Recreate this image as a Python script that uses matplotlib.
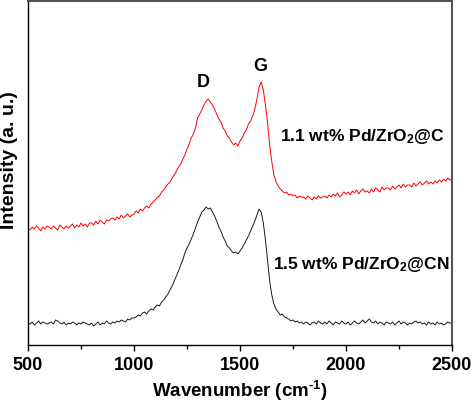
import numpy as np
import matplotlib
matplotlib.use("Agg")
import matplotlib.pyplot as plt

plt.rcParams['font.family'] = ['Liberation Sans', 'DejaVu Sans']
plt.rcParams['font.weight'] = 'bold'
plt.rcParams['mathtext.fontset'] = 'custom'
plt.rcParams['mathtext.rm'] = 'Liberation Sans:bold'
plt.rcParams['mathtext.it'] = 'Liberation Sans:bold'
plt.rcParams['mathtext.bf'] = 'Liberation Sans:bold'
plt.rcParams['mathtext.default'] = 'rm'

# Wavenumber grid (cm^-1)
wavenumber = np.arange(500, 2501, 10)

# Intensity (a.u.), 1.1 wt% Pd/ZrO2@C (red)
red_c = [
    117, 115, 118, 116, 119, 117, 114, 118, 116, 119,
    118, 116, 119, 117, 115, 120, 118, 116, 119, 117,
    119, 121, 117, 120, 118, 122, 119, 121, 118, 122,
    122, 120, 124, 121, 125, 123, 121, 125, 124, 126,
    127, 125, 128, 126, 130, 127, 129, 131, 128, 130,
    131, 134, 132, 136, 134, 137, 139, 137, 141, 143,
    145, 148, 149, 153, 155, 158, 161, 163, 167, 170,
    174, 178, 181, 186, 190, 196, 201, 207, 211, 217,
    227, 231, 235, 240, 244, 246, 243, 240, 236, 231,
    226, 223, 217, 214, 209, 207, 203, 200, 202, 199,
    204, 207, 212, 215, 221, 224, 229, 236, 246, 258,
    263, 255, 240, 222, 200, 183, 170, 163, 159, 156,
    154, 152, 153, 150, 151, 149, 150, 147, 149, 148,
    148, 146, 149, 147, 145, 148, 146, 149, 147, 148,
    149, 147, 150, 148, 151, 149, 152, 148, 150, 153,
    151, 153, 150, 154, 152, 155, 151, 154, 156, 153,
    154, 152, 156, 153, 157, 155, 153, 158, 155, 157,
    157, 155, 159, 156, 158, 160, 157, 161, 158, 160,
    160, 158, 162, 159, 161, 163, 160, 162, 164, 161,
    163, 161, 164, 162, 165, 163, 166, 164, 167, 165,
    166,
]

# Intensity (a.u.), 1.5 wt% Pd/ZrO2@CN (black)
black_cn = [
    22, 21, 23, 20, 22, 24, 21, 23, 22, 21,
    22, 23, 21, 25, 24, 22, 21, 23, 20, 22,
    21, 23, 22, 20, 22, 21, 23, 22, 21, 20,
    22, 19, 21, 23, 20, 22, 21, 24, 22, 21,
    23, 22, 24, 23, 25, 24, 23, 26, 25, 27,
    27, 28, 30, 29, 32, 33, 31, 34, 36, 35,
    38, 40, 39, 43, 45, 48, 51, 55, 59, 64,
    69, 74, 80, 85, 92, 97, 101, 106, 111, 117,
    123, 128, 133, 135, 138, 136, 137, 133, 129, 124,
    118, 114, 108, 104, 99, 97, 94, 92, 93, 91,
    94, 97, 101, 105, 109, 114, 119, 124, 130, 136,
    133, 122, 105, 85, 64, 50, 41, 36, 33, 30,
    31, 28, 27, 26, 24, 25, 23, 24, 22, 23,
    21, 23, 22, 20, 22, 23, 21, 24, 22, 21,
    23, 21, 24, 22, 20, 23, 22, 21, 24, 22,
    21, 23, 20, 22, 24, 22, 21, 23, 25, 22,
    24, 26, 23, 22, 24, 21, 23, 22, 20, 23,
    22, 21, 23, 20, 22, 24, 21, 23, 22, 20,
    22, 21, 23, 24, 22, 23, 21, 22, 20, 23,
    21, 22, 20, 23, 21, 22, 20, 21, 23, 22,
    22,
]

fig = plt.figure(figsize=(4.74, 4.07), dpi=100)
ax = fig.add_axes([28 / 474, 1 - 345 / 407, 424 / 474, 344 / 407])

ax.plot(wavenumber, red_c, color='#ff0000', lw=0.7)
ax.plot(wavenumber, black_cn, color='#1a1a1a', lw=0.7)

ax.set_xlim(500, 2500)
ax.set_ylim(0, 344)
ax.set_yticks([])
ax.set_xticks([500, 1000, 1500, 2000, 2500])
ax.set_xticks([750, 1250, 1750, 2250], minor=True)
ax.tick_params(axis='x', which='major', direction='out', length=4, width=1,
               labelsize=13, pad=5)
ax.tick_params(axis='x', which='minor', direction='out', length=3, width=1)
for lab in ax.get_xticklabels():
    lab.set_fontweight('bold')

for s in ['left', 'bottom']:
    ax.spines[s].set_linewidth(1.0)
    ax.spines[s].set_color('black')
ax.spines['right'].set_linewidth(1.5)
ax.spines['right'].set_color('#555555')
ax.spines['top'].set_linewidth(1.5)
ax.spines['top'].set_color('#555555')

ax.set_xlabel(r'Wavenumber (cm$^{\text{-1}}$)', fontsize=13.5, fontweight='bold', labelpad=3)
fig.text(10 / 474, 1 - 160 / 407, 'Intensity (a. u.)', rotation=90,
         fontsize=14, fontweight='bold', ha='center', va='center')

ax.text(1325, 345 - 87, 'D', fontsize=13, fontweight='bold', ha='center', va='baseline')
ax.text(1594, 345 - 71, 'G', fontsize=13, fontweight='bold', ha='center', va='baseline')
ax.text(1689, 345 - 141, '1.1 wt% Pd/ZrO$_2$@C', fontsize=12.5, fontweight='bold',
        ha='left', va='baseline')
ax.text(1656, 345 - 269, '1.5 wt% Pd/ZrO$_2$@CN', fontsize=12.5, fontweight='bold',
        ha='left', va='baseline')

fig.savefig('out.png', dpi=100)
